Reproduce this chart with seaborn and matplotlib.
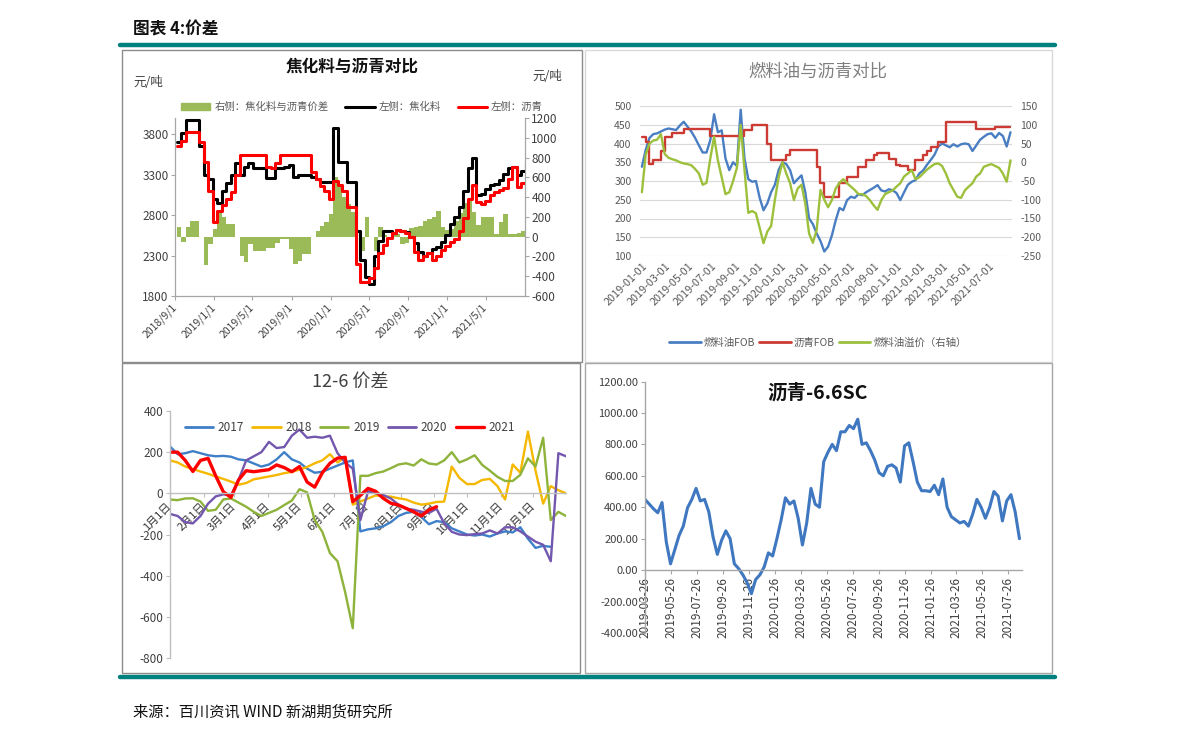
import numpy as np
import pandas as pd
import matplotlib
matplotlib.use('Agg')
import matplotlib.pyplot as plt
from matplotlib.lines import Line2D
from matplotlib.patches import Rectangle, Patch
from matplotlib.ticker import FormatStrFormatter
import seaborn as sns

sns.set_style('white')
plt.rcParams['font.family'] = ['Noto Sans CJK SC', 'DejaVu Sans']
plt.rcParams['axes.unicode_minus'] = False

# ---------------- data ----------------
# Panel 1: 焦化料与沥青对比 (two-week grid from 2018-09-07)
coke_price = [3700, 3813, 3974, 3974, 3974, 3650, 3300, 3250, 3000, 2950,
              3100, 3200, 3300, 3450, 3300, 3400, 3443, 3380, 3380, 3380,
              3260, 3257, 3380, 3380, 3400, 3420, 3270, 3295, 3295, 3295,
              3270, 3250, 3208, 3208, 3208, 3875, 3455, 3455, 3208, 3208,
              2600, 2245, 2035, 1950, 2300, 2480, 2600, 2600, 2580, 2615,
              2600, 2590, 2530, 2450, 2350, 2300, 2330, 2380, 2405, 2470,
              2560, 2690, 2780, 2900, 3100, 3380, 3500, 3050, 3060, 3120,
              3170, 3190, 3230, 3307, 3380, 3400, 3300, 3350, 3455]
asphalt_price = [3660, 3720, 3830, 3830, 3830, 3700, 3460, 3100, 2720, 2850,
                 2930, 3000, 3080, 3300, 3540, 3540, 3540, 3540, 3540, 3540,
                 3400, 3380, 3450, 3540, 3540, 3540, 3540, 3540, 3540, 3540,
                 3330, 3240, 3160, 3100, 3000, 3220, 3170, 3100, 2900, 2900,
                 2200, 1973, 1973, 2020, 2150, 2330, 2430, 2520, 2580, 2615,
                 2600, 2580, 2530, 2350, 2245, 2290, 2330, 2240, 2300, 2370,
                 2420, 2470, 2500, 2600, 2760, 3000, 3170, 2960, 2940, 2980,
                 3050, 3080, 3110, 3130, 3250, 3400, 3150, 3200, 3130]
coke_spread = [95, -57, 100, 160, 160, 0, -290, -70, 80, 260,
               200, 130, 130, 0, -200, -260, -70, -140, -140, -140,
               -110, -110, -60, -20, -20, -120, -276, -250, -175, -175,
               0, 60, 110, 150, 230, 600, 500, 400, 330, 250,
               0, -140, 200, 0, -140, 95, 20, 0, 30, 30,
               -75, -60, 90, 95, 110, 160, 180, 195, 260, 95,
               70, 80, 160, 240, 340, 365, 250, 120, 200, 200,
               200, 30, 150, 230, 30, 30, 40, 60, 260]
p1_dates = pd.date_range('2018-09-07', periods=len(coke_price), freq='14D')
p1_ticks = pd.date_range('2018-09-01', periods=9, freq=pd.DateOffset(months=4))

# Panel 2: 燃料油与沥青对比 (10-day grid from 2018-12-21)
fuel_fob = [338, 383, 415, 425, 427, 432, 437, 440, 438, 436,
            448, 458, 445, 432, 415, 395, 376, 376, 409, 478,
            430, 435, 360, 329, 350, 340, 490, 360, 305, 298,
            300, 255, 222, 240, 270, 290, 330, 350, 345, 329,
            294, 305, 315, 270, 200, 185, 160, 140, 112, 125,
            155, 195, 228, 222, 249, 258, 255, 265, 262, 270,
            276, 282, 289, 275, 272, 278, 275, 268, 249, 270,
            290, 298, 302, 320, 328, 343, 356, 370, 392, 400,
            395, 390, 398, 392, 398, 400, 398, 380, 395, 410,
            418, 425, 427, 415, 428, 420, 392, 430]
asphalt_fob = [418, 405, 345, 356, 356, 380, 418, 418, 427, 427,
               427, 438, 438, 438, 438, 438, 438, 438, 420, 420,
               420, 420, 420, 420, 420, 420, 420, 436, 436, 449,
               449, 449, 449, 400, 356, 356, 356, 356, 370, 383,
               383, 383, 383, 383, 383, 383, 338, 294, 258, 258,
               258, 258, 294, 294, 312, 312, 312, 338, 338, 356,
               356, 369, 376, 376, 376, 360, 360, 343, 340, 340,
               329, 329, 356, 356, 369, 380, 392, 392, 405, 405,
               458, 458, 458, 458, 458, 458, 458, 458, 440, 440,
               440, 440, 440, 445, 445, 445, 445, 445]
fuel_premium = [-80, 20, 50, 58, 60, 75, 22, 12, 8, 5,
                0, -3, -5, -8, -18, -30, -60, -55, 10, 68,
                5, -40, -85, -80, -50, -15, 100, -20, -135, -130,
                -136, -175, -216, -185, -170, -100, -40, 0, -30, -56,
                -101, -70, -60, -110, -190, -215, -180, -74, -100, -120,
                -101, -70, -55, -45, -56, -65, -74, -85, -85, -90,
                -101, -115, -127, -101, -85, -80, -75, -65, -56, -38,
                -30, -21, -45, -40, -30, -20, -12, -5, -3, -10,
                -30, -56, -74, -92, -95, -75, -65, -56, -38, -30,
                -12, -8, -5, -10, -15, -30, -52, 5]
p2_dates = pd.date_range('2018-12-21', periods=len(fuel_fob), freq='10D')
p2_ticks = pd.date_range('2019-01-01', '2021-07-01', freq='2MS')

# Panel 3: 12-6 价差 (weekly, day of year)
nan = np.nan
spread_2017 = [228, 190, 195, 205, 195, 185, 180, 182, 178, 165,
               160, 145, 130, 140, 165, 200, 165, 150, 120, 100,
               105, 120, 135, 150, 160, -185, -175, -170, -160, -140,
               -110, -95, -90, -115, -150, -135, -140, -170, -185, -200,
               -205, -200, -210, -195, -185, -190, -165, -220, -265, -255,
               -260, nan, nan]
spread_2018 = [160, 150, 130, 118, 106, 95, 82, 70, 57, 42,
               50, 68, 75, 82, 89, 98, 104, 115, 128, 146,
               160, 190, 150, 175, -55, -40, -25, -10, -15, -16,
               -24, -30, -45, -55, -50, -42, -40, 130, 75, 45,
               45, 65, 70, 35, -30, 140, 100, 300, 110, -50,
               35, 15, 0]
spread_2019 = [-30, -33, -25, -24, -40, -85, -80, -30, -25, -45,
               -65, -90, -110, -95, -80, -57, -35, 20, 5, -130,
               -187, -290, -330, -480, -655, 85, 85, 98, 106, 122,
               140, 146, 135, 165, 145, 140, 160, 200, 150, 165,
               185, 138, 110, 80, 60, 60, 90, 170, 130, 270,
               -130, -90, -110]
spread_2020 = [-100, -110, -140, -146, -110, -50, -15, -5, -10, 65,
               160, 180, 200, 250, 220, 225, 280, 310, 270, 275,
               270, 280, 195, 150, 120, -130, 10, 0, -8, -25,
               -55, -75, -80, -89, -95, -75, -145, -187, -200, -203,
               -198, -195, -180, -195, -165, -165, -185, -210, -235, -250,
               -330, 195, 180]
spread_2021 = [200, 200, 160, 106, 160, 170, 85, 8, -20, 65,
               110, 105, 110, 115, 138, 125, 105, 130, 55, 30,
               100, 146, 171, 175, -41, -10, 24, 10, -24, -48,
               -57, -73, -90, -110, -81, -65] + [nan] * 17
p3_days = np.arange(0, 365, 7)
p3_month_days = [0, 31, 59, 90, 120, 151, 181, 212, 243, 273, 304, 334]
p3_month_labels = [f'{m}月1日' for m in range(1, 13)]
p3_years = ['2017', '2018', '2019', '2020', '2021']

# Panel 4: 沥青-6.6SC (10-day grid from 2019-03-26)
spread_sc = [450, 420, 390, 365, 430, 180, 40, 130, 220, 280,
             397, 450, 520, 440, 450, 370, 210, 100, 190, 250,
             200, 40, 10, -30, -80, -150, -60, -30, 20, 110,
             90, 200, 320, 460, 420, 440, 330, 160, 300, 520,
             420, 400, 690, 750, 800, 760, 880, 880, 920, 900,
             960, 800, 810, 760, 700, 620, 600, 660, 670, 650,
             560, 790, 810, 690, 560, 505, 505, 500, 540, 480,
             580, 400, 340, 320, 300, 310, 280, 355, 450, 400,
             330, 400, 500, 470, 313, 440, 480, 370, 200]
p4_dates = pd.date_range('2019-03-26', periods=len(spread_sc), freq='10D')
p4_ticks = pd.date_range('2019-03-26', periods=15, freq=pd.DateOffset(months=2))

# ---------------- figure ----------------
W, H = 1191, 742
fig = plt.figure(figsize=(W / 100, H / 100), dpi=100)
fig.patch.set_facecolor('white')


def rect(x0, y0, x1, y1):
    return [x0 / W, 1 - y1 / H, (x1 - x0) / W, (y1 - y0) / H]


def fx(x):
    return x / W


def fy(y):
    return 1 - y / H


TEAL = '#00807F'
DARK = '#404040'
GRAY_SP = '#A6A6A6'

# header / footer / frames
fig.text(fx(133), fy(30), '图表 4:价差', fontsize=12, fontweight='bold', va='center', ha='left', color='#111111')
fig.add_artist(Line2D([fx(120), fx(1055)], [fy(45), fy(45)], color=TEAL, lw=3.2, transform=fig.transFigure))
fig.add_artist(Line2D([fx(120), fx(1055)], [fy(677), fy(677)], color=TEAL, lw=3.2, transform=fig.transFigure))
fig.text(fx(133), fy(712), '来源：百川资讯 WIND 新湖期货研究所', fontsize=11, va='center', ha='left', color='#111111')

for (x0, y0, x1, y1, ec) in [(122, 50, 582, 362, '#8C8C8C'), (585, 50, 1052, 362, '#D9D9D9'),
                             (122, 363, 580, 673, '#8C8C8C'), (585, 363, 1052, 673, '#A6A6A6')]:
    fig.add_artist(Rectangle((fx(x0), fy(y1)), (x1 - x0) / W, (y1 - y0) / H, fill=False,
                             ec=ec, lw=1.0, transform=fig.transFigure))

# ---------------- Panel 1 ----------------
ax1 = fig.add_axes(rect(175, 118, 525, 296))
ax1b = ax1.twinx()
ax1b.bar(p1_dates, coke_spread, width=14, align='edge', color='#9BBB59', linewidth=0)
df1 = pd.DataFrame({'date': p1_dates, 'coke': coke_price, 'asphalt': asphalt_price})
sns.lineplot(data=df1, x='date', y='coke', ax=ax1, color='black', lw=2.2,
             drawstyle='steps-post', estimator=None)
sns.lineplot(data=df1, x='date', y='asphalt', ax=ax1, color='#FF0000', lw=2.2,
             drawstyle='steps-post', estimator=None)
ax1.set_zorder(ax1b.get_zorder() + 1)
ax1.patch.set_visible(False)
ax1.set_xlim(pd.Timestamp('2018-09-01'), pd.Timestamp('2021-09-01'))
ax1.set_ylim(1800, 4000)
ax1.set_yticks([1800, 2300, 2800, 3300, 3800])
ax1b.set_ylim(-600, 1200)
ax1b.set_yticks(list(range(-600, 1201, 200)))
ax1.set_xticks(p1_ticks)
ax1.set_xticklabels([f'{d.year}/{d.month}/1' for d in p1_ticks], rotation=45, ha='right',
                    va='center', rotation_mode='anchor', fontsize=7.5, color=DARK)
ax1.set_xlabel('')
ax1.set_ylabel('')
ax1b.set_ylabel('')
for a in (ax1, ax1b):
    for s in a.spines.values():
        s.set_color(GRAY_SP)
        s.set_linewidth(0.9)
    a.spines['top'].set_visible(False)
ax1.spines['right'].set_visible(False)
ax1b.spines['left'].set_visible(False)
ax1b.spines['bottom'].set_visible(False)
ax1.tick_params(axis='y', length=3, color=GRAY_SP, labelsize=8.5, labelcolor=DARK, pad=1.5, left=True)
ax1.tick_params(axis='x', length=3, color=GRAY_SP, pad=4, bottom=True)
ax1b.tick_params(axis='y', length=3, color=GRAY_SP, labelsize=8.5, labelcolor=DARK, pad=1.5, right=True)

fig.text(fx(352), fy(67), '焦化料与沥青对比', fontsize=12, fontweight='bold', ha='center', va='center', color='#111111')
fig.text(fx(133), fy(82), '元/吨', fontsize=9, ha='left', va='center', color=DARK)
fig.text(fx(532), fy(77), '元/吨', fontsize=9, ha='left', va='center', color=DARK)
h1 = [Patch(color='#9BBB59'), Line2D([], [], color='black', lw=2.2), Line2D([], [], color='#FF0000', lw=2.2)]
fig.legend(h1, ['右侧：焦化料与沥青价差', '左侧：焦化料', '左侧：沥青'], loc='center',
           bbox_to_anchor=(fx(362), fy(107)), ncol=3, frameon=False, fontsize=7.5,
           handlelength=2.8, handleheight=0.6, columnspacing=1.6, handletextpad=0.4, labelcolor='#595959')

# ---------------- Panel 2 ----------------
BLUE2, RED2, GREEN2 = '#4A7EC2', '#CC3B33', '#9DC03C'
ax2 = fig.add_axes(rect(640, 106, 1012, 256))
ax2r = ax2.twinx()
sns.lineplot(x=p2_dates, y=fuel_fob, ax=ax2, color=BLUE2, lw=1.7, estimator=None)
sns.lineplot(x=p2_dates, y=asphalt_fob, ax=ax2, color=RED2, lw=1.7, drawstyle='steps-post', estimator=None)
sns.lineplot(x=p2_dates, y=fuel_premium, ax=ax2r, color=GREEN2, lw=1.7, estimator=None)
ax2.set_xlim(pd.Timestamp('2018-12-16'), pd.Timestamp('2021-08-21'))
ax2.set_ylim(100, 500)
ax2.set_yticks(list(range(100, 501, 50)))
ax2r.set_ylim(-250, 150)
ax2r.set_yticks(list(range(-250, 151, 50)))
ax2.yaxis.grid(True, color='#D9D9D9', lw=0.8)
ax2.xaxis.grid(False)
ax2.set_xticks(p2_ticks)
ax2.set_xticklabels([d.strftime('%Y-%m-%d') for d in p2_ticks], rotation=45, ha='right',
                    va='center', rotation_mode='anchor', fontsize=7.8, color='#595959')
for a in (ax2, ax2r):
    for s in a.spines.values():
        s.set_visible(False)
    a.set_xlabel('')
    a.set_ylabel('')
ax2.tick_params(axis='y', length=0, labelsize=7.5, labelcolor='#595959', pad=6)
ax2.tick_params(axis='x', length=0, pad=6)
ax2r.tick_params(axis='y', length=0, labelsize=7.5, labelcolor='#595959', pad=6)
fig.text(fx(818), fy(72), '燃料油与沥青对比', fontsize=12.5, ha='center', va='center', color='#7F7F7F')
h2 = [Line2D([], [], color=BLUE2, lw=2), Line2D([], [], color=RED2, lw=2), Line2D([], [], color=GREEN2, lw=2)]
fig.legend(h2, ['燃料油FOB', '沥青FOB', '燃料油溢价（右轴）'], loc='center',
           bbox_to_anchor=(fx(818), fy(343)), ncol=3, frameon=False, fontsize=7.5,
           handlelength=3, columnspacing=0.4, handletextpad=0.3, labelcolor='#595959')

# ---------------- Panel 3 ----------------
colors3 = {'2017': '#3F7FC8', '2018': '#F5B800', '2019': '#8DB33A', '2020': '#7357AE', '2021': '#FF0000'}
series3 = {'2017': spread_2017, '2018': spread_2018, '2019': spread_2019,
           '2020': spread_2020, '2021': spread_2021}
ax3 = fig.add_axes(rect(170, 411, 566, 658))
for yr in p3_years:
    d = pd.DataFrame({'day': p3_days, 'v': series3[yr]}).dropna()
    sns.lineplot(data=d, x='day', y='v', ax=ax3, color=colors3[yr],
                 lw=2.4 if yr == '2021' else 1.7, estimator=None)
ax3.spines['top'].set_visible(False)
ax3.spines['right'].set_visible(False)
ax3.spines['bottom'].set_position(('data', 0))
for s in ('left', 'bottom'):
    ax3.spines[s].set_color('#BFBFBF')
    ax3.spines[s].set_linewidth(1.0)
ax3.set_xlim(0, 364)
ax3.set_ylim(-800, 400)
ax3.set_yticks(list(range(-800, 401, 200)))
ax3.set_xticks(p3_month_days)
ax3.set_xticklabels(p3_month_labels, rotation=45, ha='right', va='center',
                    rotation_mode='anchor', fontsize=8, color='#333333', fontweight='medium')
ax3.set_xlabel('')
ax3.set_ylabel('')
ax3.tick_params(axis='y', length=3, color='#BFBFBF', labelsize=8.5, labelcolor=DARK, pad=2, left=True)
ax3.tick_params(axis='x', length=3, color='#BFBFBF', pad=5, bottom=True)
fig.text(fx(350), fy(382), '12-6 价差', fontsize=13, ha='center', va='center', color=DARK)
h3 = [Line2D([], [], color=colors3[y], lw=2.4 if y == '2021' else 2) for y in p3_years]
ax3.legend(h3, p3_years, loc='center', bbox_to_anchor=(fx(350), fy(428)), bbox_transform=fig.transFigure,
           ncol=5, frameon=False, fontsize=8.5, handlelength=2.4, columnspacing=0.7,
           handletextpad=0.4, labelcolor=DARK)

# ---------------- Panel 4 ----------------
ax4 = fig.add_axes(rect(645, 381.5, 1022, 633))
sns.lineplot(x=p4_dates, y=spread_sc, ax=ax4, color='#3F78C0', lw=2.2, estimator=None)
ax4.spines['top'].set_visible(False)
ax4.spines['right'].set_visible(False)
ax4.spines['bottom'].set_position(('data', 0))
for s in ('left', 'bottom'):
    ax4.spines[s].set_color('#A6A6A6')
    ax4.spines[s].set_linewidth(1.0)
ax4.set_xlim(pd.Timestamp('2019-03-26'), pd.Timestamp('2021-08-28'))
ax4.set_ylim(-400, 1200)
ax4.set_yticks(list(range(-400, 1201, 200)))
ax4.yaxis.set_major_formatter(FormatStrFormatter('%.2f'))
ax4.set_xticks(p4_ticks)
ax4.set_xticklabels([d.strftime('%Y-%m-%d') for d in p4_ticks], rotation=90, ha='center',
                    va='top', fontsize=8.5, color=DARK)
ax4.set_xlabel('')
ax4.set_ylabel('')
ax4.tick_params(axis='y', length=3, color='#A6A6A6', labelsize=8, labelcolor=DARK, pad=2, left=True)
ax4.tick_params(axis='x', length=3, color='#A6A6A6', pad=2, bottom=True)
fig.text(fx(818), fy(393), '沥青-6.6SC', fontsize=14, fontweight='bold', ha='center', va='center', color='#111111')

fig.savefig('out.png', dpi=100)
